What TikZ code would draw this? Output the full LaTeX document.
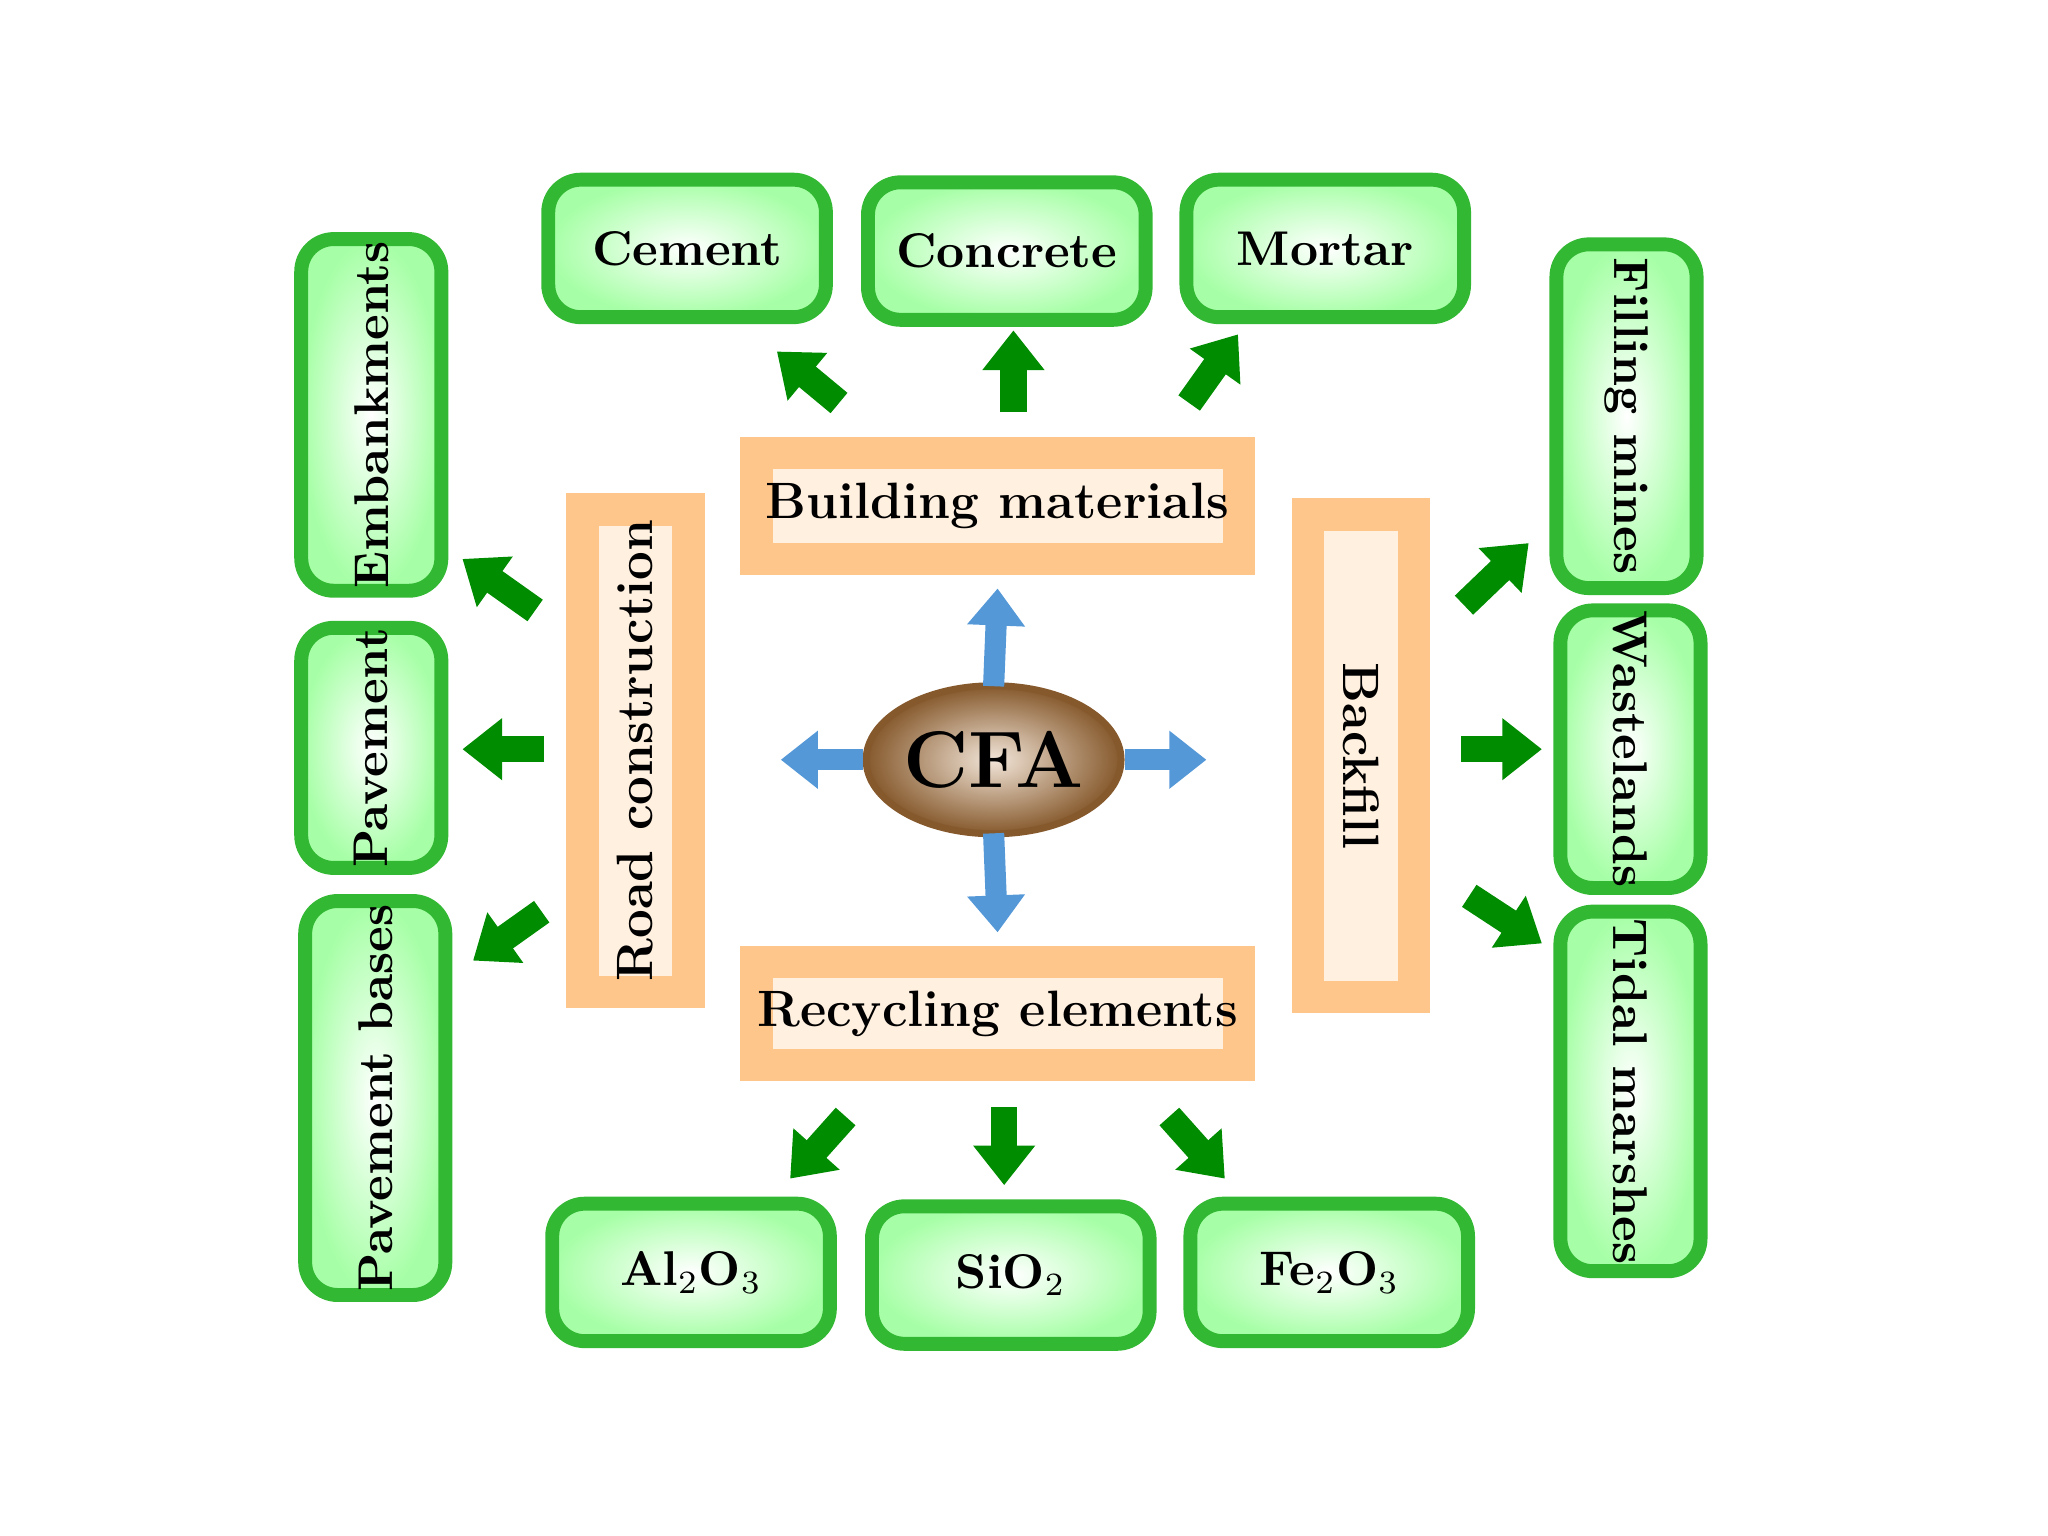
\documentclass[tikz,border=0pt]{standalone}
\usepackage{tikz}
\usetikzlibrary{arrows.meta}
\usetikzlibrary{shapes.geometric}
\begin{document}
\begin{tikzpicture}[x=0.01cm,y=-0.01cm,
	usebox/.style={draw=green!65!black!80, line width=3pt, rounded corners=7pt,
		inner color=white, outer color=green!35, font=\fontsize{10.5}{12}\selectfont\bfseries, inner sep=0pt},
	fieldbox/.style={draw=orange!45, line width=7pt, fill=orange!12,
		font=\fontsize{11}{13}\selectfont\bfseries, inner sep=0pt},
	garrow/.style={line width=0.2cm, draw=green!55!black,
		-{Triangle[length=0.3cm,width=0.45cm]}},
	barrow/.style={line width=0.16cm, draw=cyan!60!blue!70,
		-{Triangle[length=0.28cm,width=0.42cm]}}]

	%Frame
	\useasboundingbox (0,0) rectangle (1550,1162);

	%CFA
	\node[ellipse, minimum width=1.8cm, minimum height=1.12cm, inner sep=0pt, inner color=brown!20,
		outer color=brown!70!black, draw=brown!70!black, line width=1.5pt,
		font=\LARGE\bfseries] (cfa) at (752,575) {CFA};

	%Fields
	\node[fieldbox, minimum width=3.65cm, minimum height=0.8cm] (build) at (755,383) {Building materials};
	\node[fieldbox, minimum width=3.65cm, minimum height=0.78cm] (recyc) at (755,767) {Recycling elements};
	\node[fieldbox, minimum width=3.65cm, minimum height=0.8cm, rotate=90] (road) at (481,568) {Road construction};
	\node[fieldbox, minimum width=3.65cm, minimum height=0.8cm, rotate=-90] (back) at (1030,572) {Backfill};

	%Uses top and bottom
	\node[usebox, minimum width=2.1cm, minimum height=1.04cm] (cement) at (520,188) {Cement};
	\node[usebox, minimum width=2.1cm, minimum height=1.04cm] (concr) at (762,190) {Concrete};
	\node[usebox, minimum width=2.1cm, minimum height=1.04cm] (mortar) at (1003,188) {Mortar};
	\node[usebox, minimum width=2.1cm, minimum height=1.04cm] (al) at (523,963) {Al$_2$O$_3$};
	\node[usebox, minimum width=2.1cm, minimum height=1.04cm] (si) at (765,965) {SiO$_2$};
	\node[usebox, minimum width=2.1cm, minimum height=1.04cm] (fe) at (1006,963) {Fe$_2$O$_3$};

	%Uses left and right
	\node[usebox, minimum width=2.66cm, minimum height=1.06cm, rotate=90] (emb) at (281,314) {Embankments};
	\node[usebox, minimum width=1.74cm, minimum height=1.06cm, rotate=90] (pave) at (281,566) {Pavement};
	\node[usebox, minimum width=2.98cm, minimum height=1.06cm, rotate=90] (paveb) at (284,831) {Pavement bases};
	\node[usebox, minimum width=2.6cm, minimum height=1.06cm, rotate=-90] (fill) at (1231,315) {Filling mines};
	\node[usebox, minimum width=1.84cm, minimum height=1.06cm, rotate=-90] (waste) at (1234,567) {Wastelands};
	\node[usebox, minimum width=2.72cm, minimum height=1.06cm, rotate=-90] (tidal) at (1234,826) {Tidal marshes};

	%Arrow ends
	\coordinate (c1) at (635,305); \coordinate (c1e) at (588,266);
	\coordinate (c2) at (767,312); \coordinate (c2e) at (767,250);
	\coordinate (c3) at (900,305); \coordinate (c3e) at (937,253);
	\coordinate (l1) at (405,462); \coordinate (l1e) at (350,423);
	\coordinate (l2) at (412,567); \coordinate (l2e) at (350,567);
	\coordinate (l3) at (410,690); \coordinate (l3e) at (358,727);
	\coordinate (r1) at (1108,458); \coordinate (r1e) at (1157,411);
	\coordinate (r2) at (1106,567); \coordinate (r2e) at (1167,567);
	\coordinate (r3) at (1112,678); \coordinate (r3e) at (1167,714);
	\coordinate (b1) at (640,845); \coordinate (b1e) at (598,892);
	\coordinate (b2) at (760,838); \coordinate (b2e) at (760,897);
	\coordinate (b3) at (885,845); \coordinate (b3e) at (927,892);

	%Green arrows
	\foreach \a in {c1,c2,c3,l1,l2,l3,r1,r2,r3,b1,b2,b3}
		\draw[garrow] (\a) -- (\a e);

	%Blue arrows
	\draw[barrow] ([yshift=-0.03cm]cfa.north) -- ([yshift=-0.1cm]build.south);
	\draw[barrow] ([yshift=0.03cm]cfa.south) -- ([yshift=0.1cm]recyc.north);
	\draw[barrow] (cfa.west) -- ++(-62,0);
	\draw[barrow] (cfa.east) -- ++(62,0);

\end{tikzpicture}
\end{document}
